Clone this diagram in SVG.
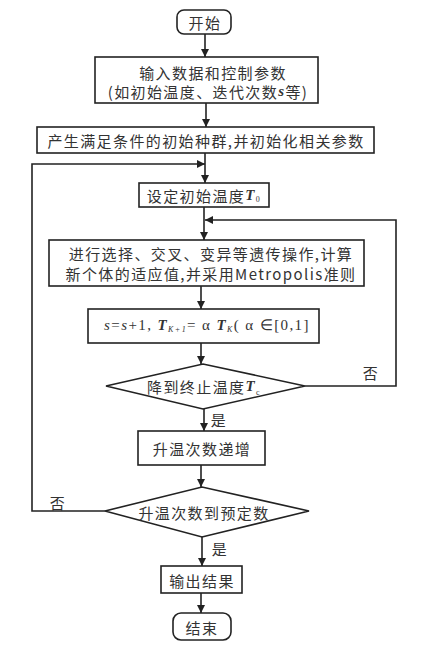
<svg xmlns="http://www.w3.org/2000/svg" width="427" height="645" viewBox="0 0 427 645">
<style>
.b{fill:#fff;stroke:#222;stroke-width:1.6}
.t{font-family:"Noto Sans CJK SC","Noto Sans",sans-serif;font-size:15px;fill:#333;text-anchor:middle;dominant-baseline:central;letter-spacing:1.4px}
.l{fill:none;stroke:#222;stroke-width:1.6}
.m{font-family:"Liberation Serif",serif}
</style>
<defs>
<marker id="a" viewBox="0 0 10 10" refX="10" refY="5" markerWidth="8" markerHeight="8" orient="auto" markerUnits="userSpaceOnUse"><path d="M0,0 L10,5 L0,10 z" fill="#222"/></marker>
</defs>
<rect width="427" height="645" fill="#fff"/>
<g id="connectors">
<line class="l" x1="205" y1="34" x2="205" y2="57" marker-end="url(#a)"/>
<line class="l" x1="206" y1="103" x2="206" y2="127" marker-end="url(#a)"/>
<line class="l" x1="205" y1="153" x2="205" y2="183" marker-end="url(#a)"/>
<polyline class="l" points="105,511 32,511 32,164 205,164" marker-end="url(#a)"/>
<line class="l" x1="204" y1="207" x2="204" y2="240" marker-end="url(#a)"/>
<polyline class="l" points="305,386 396,386 396,220 205,220" marker-end="url(#a)"/>
<line class="l" x1="201" y1="286" x2="201" y2="309" marker-end="url(#a)"/>
<line class="l" x1="201" y1="343" x2="201" y2="364" marker-end="url(#a)"/>
<line class="l" x1="204" y1="409" x2="204" y2="431" marker-end="url(#a)"/>
<line class="l" x1="201" y1="465" x2="201" y2="487" marker-end="url(#a)"/>
<line class="l" x1="202" y1="537" x2="202" y2="566" marker-end="url(#a)"/>
<line class="l" x1="201" y1="593" x2="201" y2="613" marker-end="url(#a)"/>
<text class="t" x="371" y="372">否</text>
<text class="t" x="58" y="502">否</text>
<text class="t" x="219" y="419">是</text>
<text class="t" x="220" y="548">是</text>
</g>
<g id="start"><rect class="b" x="177" y="10" width="54" height="24" rx="7"/><text class="t" x="205" y="22">开始</text></g>
<g id="input"><rect class="b" x="95" y="57" width="223" height="46"/><text class="t" x="213" y="72">输入数据和控制参数</text><text class="t" x="208" y="91">(如初始温度、迭代次数<tspan class="m" font-style="italic" font-weight="bold">s</tspan>等)</text></g>
<g id="init"><rect class="b" x="37" y="127" width="337" height="26"/><text class="t" x="206" y="140">产生满足条件的初始种群,并初始化相关参数</text></g>
<g id="settemp"><rect class="b" x="139" y="183" width="130" height="24"/><text class="t" x="204" y="195">设定初始温度<tspan class="m" font-style="italic" font-weight="bold">T</tspan><tspan class="m" font-size="8" dy="4">0</tspan></text></g>
<g id="genetic"><rect class="b" x="49" y="240" width="315" height="46"/><text class="t" x="211" y="253">进行选择、交叉、变异等遗传操作,计算</text><text class="t" x="211" y="273">新个体的适应值,并采用Metropolis准则</text></g>
<g id="update"><rect class="b" x="88" y="309" width="231" height="34"/><text class="t m" x="207" y="325" letter-spacing="0.5"><tspan font-style="italic">s</tspan>=<tspan font-style="italic">s</tspan>+1, <tspan font-style="italic" font-weight="bold">T</tspan><tspan font-size="8" font-style="italic" dy="4">K+1</tspan><tspan dy="-4">= α </tspan><tspan font-style="italic" font-weight="bold">T</tspan><tspan font-size="8" font-style="italic" dy="4">K</tspan><tspan dy="-4">( α ∈[0,1]</tspan></text></g>
<g id="cond1"><polygon class="b" points="106,386 203,364 305,386 203,409"/><text class="t" x="204" y="386">降到终止温度<tspan class="m" font-style="italic" font-weight="bold">T</tspan><tspan class="m" font-size="8" dy="6">c</tspan></text></g>
<g id="increase"><rect class="b" x="138" y="431" width="127" height="34"/><text class="t" x="202" y="448">升温次数递增</text></g>
<g id="cond2"><polygon class="b" points="105,511 202,487 309,511 202,537"/><text class="t" x="204" y="512">升温次数到预定数</text></g>
<g id="output"><rect class="b" x="161" y="566" width="81" height="27"/><text class="t" x="202" y="580">输出结果</text></g>
<g id="end"><rect class="b" x="173" y="613" width="58" height="27" rx="8"/><text class="t" x="202" y="627">结束</text></g>
</svg>
